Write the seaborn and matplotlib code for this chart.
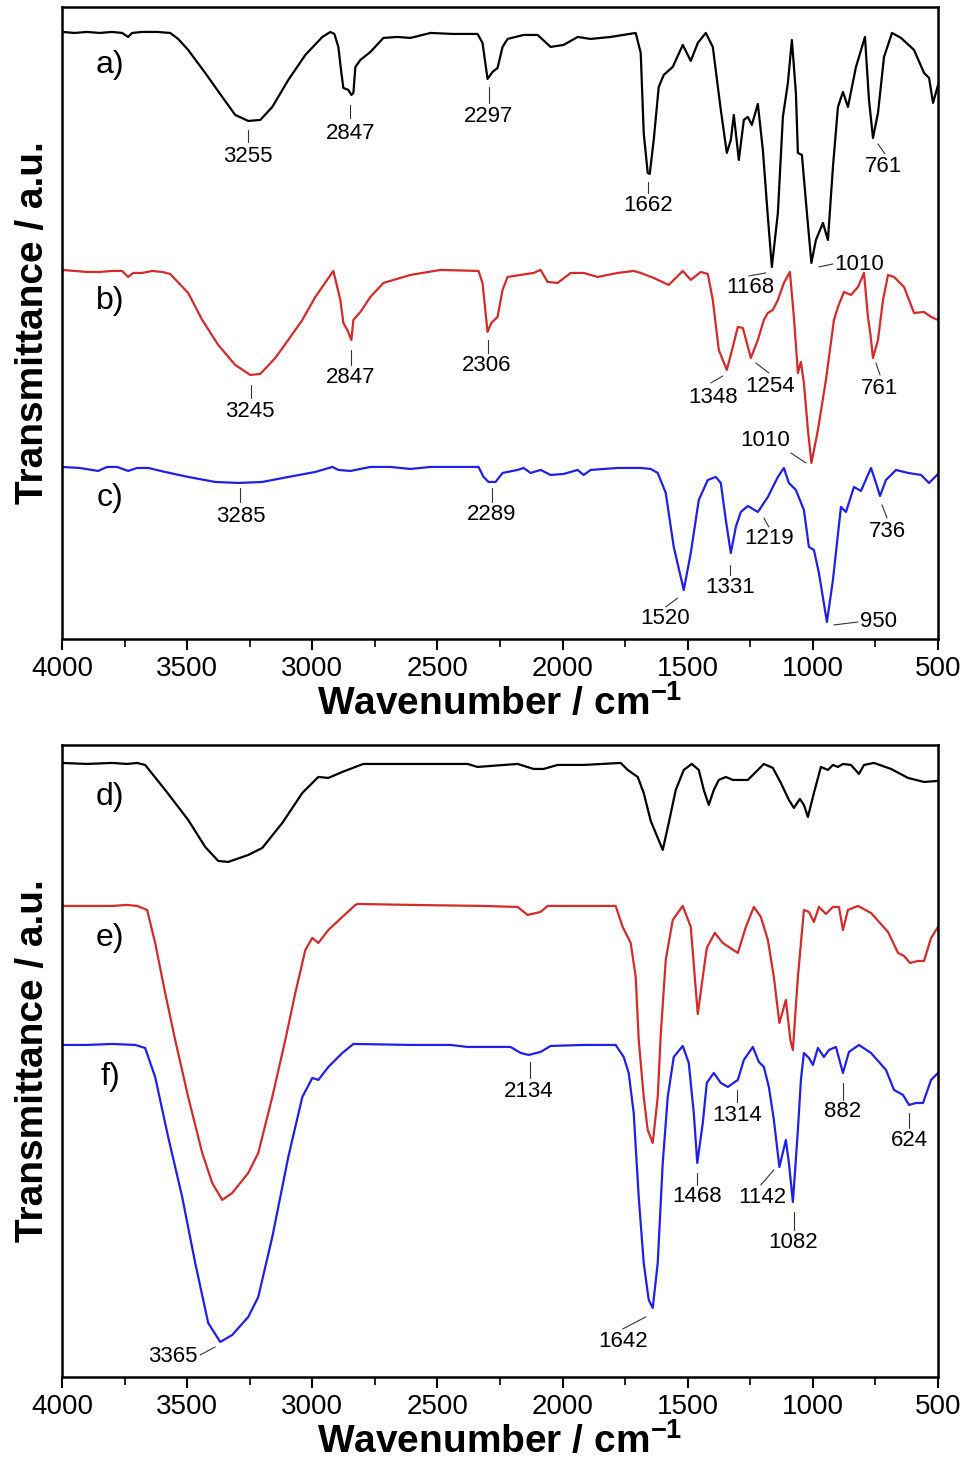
import numpy as np
import pandas as pd
import seaborn as sns
import matplotlib.pyplot as plt

# FTIR spectra, values (wavenumber in cm-1, transmittance in a.u.)
a_wn = [4000, 3950, 3900, 3850, 3800, 3760, 3736, 3720, 3680, 3620, 3568, 3536, 3496, 3428, 3360, 3308, 3256, 3208,
        3160, 3096, 3028, 2960, 2928, 2912, 2896, 2884, 2876, 2856, 2844, 2836, 2828, 2808, 2768, 2716, 2660, 2608,
        2528, 2440, 2340, 2320, 2300, 2280, 2260, 2240, 2220, 2156, 2100, 2048, 1996, 1940, 1888, 1808, 1708,
        1688, 1676, 1660, 1652, 1636, 1616, 1596, 1560, 1520, 1488, 1460, 1428, 1400, 1368, 1344, 1328, 1316,
        1296, 1276, 1260, 1244, 1220, 1200, 1180, 1164, 1140, 1120, 1100, 1084, 1068, 1060, 1044, 1024, 1006,
        988, 960, 940, 920, 900, 880, 860, 828, 792, 776, 760, 740, 716, 684, 648, 596, 556, 536, 520, 500]
a_t = [607, 606, 607, 606, 607, 606, 602, 606, 607, 607, 606, 600, 589, 566, 542, 524, 518, 519,
       532, 559, 584, 602, 607, 605, 592, 566, 551, 549, 544, 546, 572, 579, 587, 601, 602, 601,
       606, 605, 605, 596, 560, 567, 571, 592, 600, 604, 604, 592, 594, 602, 600, 602, 606,
       586, 506, 466, 465, 499, 552, 564, 572, 594, 578, 596, 606, 592, 529, 486, 499, 524,
       479, 519, 522, 514, 535, 489, 422, 372, 426, 522, 556, 599, 546, 486, 484, 426, 376,
       399, 416, 399, 472, 532, 547, 532, 572, 602, 539, 501, 526, 582, 606, 601, 589, 566, 561, 536, 554]

b_wn = [4000, 3950, 3900, 3850, 3800, 3760, 3736, 3716, 3680, 3640, 3600, 3568, 3496, 3440, 3376, 3308, 3248,
        3208, 3148, 3096, 3040, 2988, 2916, 2888, 2876, 2860, 2844, 2836, 2808, 2768, 2716, 2608, 2488, 2336,
        2320, 2300, 2285, 2260, 2240, 2220, 2116, 2088, 2060, 2020, 1968, 1916, 1860, 1780, 1716, 1688, 1636,
        1576, 1520, 1488, 1448, 1420, 1400, 1376, 1344, 1320, 1300, 1280, 1248, 1220, 1196, 1180, 1160, 1140,
        1116, 1092, 1076, 1060, 1048, 1036, 1020, 1006, 980, 948, 916, 900, 876, 848, 820, 796, 780, 770, 760,
        740, 730, 720, 700, 676, 636, 596, 556, 528, 500]
b_t = [369, 368, 367, 367, 368, 368, 362, 366, 366, 368, 367, 365, 346, 319, 294, 274, 264,
       265, 281, 299, 319, 342, 368, 339, 316, 309, 299, 319, 327, 342, 356, 364, 369, 368,
       356, 307, 316, 322, 349, 362, 366, 369, 357, 356, 366, 366, 362, 366, 368, 366, 361,
       354, 368, 359, 367, 365, 339, 289, 269, 292, 312, 311, 281, 299, 319, 326, 329, 339,
       356, 367, 322, 266, 277, 256, 209, 176, 209, 259, 319, 332, 347, 344, 352, 366, 322, 304, 281,
       299, 319, 339, 364, 362, 352, 326, 327, 322, 319]

c_wn = [4000, 3930, 3856, 3820, 3780, 3736, 3700, 3656, 3588, 3496, 3388, 3296, 3200, 3096, 2988, 2920, 2896,
        2848, 2768, 2688, 2608, 2528, 2336, 2316, 2296, 2268, 2240, 2180, 2156, 2128, 2088, 2048, 1996, 1940,
        1916, 1888, 1780, 1688, 1648, 1620, 1588, 1556, 1516, 1488, 1456, 1420, 1388, 1368, 1348, 1328, 1308,
        1288, 1260, 1220, 1180, 1140, 1116, 1096, 1068, 1036, 1016, 996, 976, 944, 920, 888, 868, 836, 808,
        768, 748, 732, 708, 668, 620, 568, 536, 500]
c_t = [172, 171, 168, 172, 172, 168, 171, 171, 167, 162, 157, 156, 157, 162, 167, 172, 169,
       168, 172, 172, 170, 172, 172, 162, 157, 157, 166, 169, 171, 166, 169, 164, 165, 169,
       164, 169, 171, 171, 170, 166, 146, 92, 49, 86, 139, 159, 162, 156, 119, 86, 112,
       127, 133, 127, 142, 162, 171, 156, 149, 129, 92, 89, 66, 17, 59, 132, 127, 152, 148,
       171, 156, 143, 159, 169, 166, 164, 156, 165]

d_wn = [4000, 3900, 3800, 3740, 3700, 3668, 3588, 3496, 3428, 3376, 3336, 3256, 3200, 3120, 3040, 2976, 2936,
        2880, 2828, 2796, 2580, 2380, 2340, 2180, 2116, 2076, 2020, 1916, 1768, 1740, 1700, 1676, 1648, 1600,
        1576, 1548, 1516, 1484, 1456, 1436, 1416, 1396, 1376, 1348, 1320, 1260, 1228, 1196, 1160, 1128, 1096,
        1076, 1052, 1036, 1020, 996, 968, 940, 920, 900, 880, 848, 816, 796, 756, 688, 620, 556, 500]
d_t = [614, 613, 614, 613, 614, 612, 587, 557, 530, 516, 515, 522, 529, 554, 584, 600, 599,
       605, 610, 613, 613, 613, 610, 613, 608, 608, 612, 612, 614, 607, 600, 584, 556, 527,
       554, 587, 607, 613, 607, 587, 572, 587, 597, 600, 597, 597, 605, 613, 609, 594, 577,
       569, 578, 572, 560, 584, 610, 607, 612, 610, 613, 612, 603, 612, 614, 608, 599, 595, 596]

e_wn = [4000, 3900, 3800, 3740, 3700, 3660, 3628, 3588, 3548, 3496, 3440, 3400, 3360, 3320, 3256, 3216, 3160,
        3108, 3068, 3028, 3000, 2976, 2936, 2880, 2828, 2820, 2600, 2316, 2180, 2140, 2088, 2060, 1916, 1788,
        1760, 1728, 1708, 1696, 1676, 1660, 1640, 1620, 1608, 1588, 1560, 1520, 1488, 1472, 1460, 1440, 1424,
        1392, 1360, 1300, 1268, 1236, 1208, 1180, 1156, 1134, 1108, 1090, 1080, 1060, 1036, 1016, 996, 976,
        948, 920, 896, 880, 860, 820, 768, 700, 660, 636, 612, 580, 556, 528, 500]
e_t = [471, 471, 471, 472, 471, 467, 434, 384, 337, 280, 224, 194, 177, 184, 204, 224, 280,
       337, 384, 427, 439, 434, 447, 460, 472, 473, 472, 471, 470, 462, 465, 471, 471, 471,
       450, 434, 400, 337, 280, 247, 234, 280, 342, 417, 457, 471, 450, 400, 363, 400, 429,
       444, 434, 424, 450, 470, 460, 437, 400, 354, 377, 337, 327, 400, 467, 465, 455, 470,
       463, 470, 470, 447, 467, 471, 464, 445, 424, 421, 414, 416, 416, 439, 450]

f_wn = [4000, 3900, 3800, 3708, 3668, 3628, 3576, 3520, 3468, 3416, 3368, 3320, 3256, 3216, 3160, 3096, 3040,
        3000, 2976, 2936, 2880, 2836, 2600, 2448, 2380, 2208, 2168, 2136, 2088, 2048, 1916, 1788, 1756, 1736,
        1716, 1696, 1676, 1656, 1640, 1620, 1600, 1580, 1556, 1520, 1496, 1476, 1462, 1440, 1424, 1396, 1368,
        1340, 1300, 1276, 1240, 1216, 1196, 1176, 1156, 1134, 1108, 1096, 1080, 1060, 1048, 1036, 1016, 1000,
        980, 956, 936, 908, 880, 856, 816, 768, 708, 676, 640, 616, 588, 560, 528, 500]
f_t = [332, 332, 333, 332, 329, 300, 240, 180, 114, 54, 35, 42, 60, 80, 140, 220, 280,
       299, 297, 310, 324, 333, 332, 332, 330, 330, 324, 322, 325, 331, 332, 332, 320, 304,
       264, 180, 114, 77, 69, 114, 214, 280, 320, 331, 314, 264, 214, 254, 294, 304, 294,
       290, 297, 317, 330, 315, 310, 290, 257, 210, 237, 214, 175, 247, 297, 324, 319, 312,
       329, 320, 327, 330, 304, 325, 332, 324, 307, 287, 282, 272, 274, 274, 297, 304]

# peak labels: text, text x, text y, leader x1, y1, x2, y2
top_peaks = [
    ("3255", 3256, 482, 3256, 509, 3256, 497), ("2847", 2848, 505, 2848, 534, 2848, 521),
    ("2297", 2296, 522, 2296, 552, 2296, 536), ("1662", 1660, 433, 1660, 457, 1660, 446),
    ("1168", 1252, 351, 1256, 363, 1188, 366), ("1010", 816, 374, 976, 372, 920, 375),
    ("761", 716, 472, 740, 495, 712, 485),
    ("3245", 3248, 227, 3244, 254, 3244, 241), ("2847", 2848, 261, 2844, 289, 2844, 274),
    ("2306", 2304, 273, 2300, 299, 2300, 286), ("1348", 1400, 241, 1360, 263, 1408, 256),
    ("1254", 1172, 252, 1228, 276, 1176, 266), ("761", 732, 250, 748, 276, 732, 264),
    ("1010", 1192, 198, 1088, 186, 1028, 176),
    ("3285", 3284, 122, 3288, 151, 3288, 137), ("2289", 2284, 124, 2284, 151, 2284, 137),
    ("1520", 1592, 20, 1588, 32, 1540, 41), ("1331", 1332, 51, 1332, 74, 1332, 64),
    ("1219", 1176, 100, 1196, 121, 1176, 112), ("736", 704, 107, 724, 134, 704, 121),
    ("950", 736, 17, 916, 14, 820, 17),
]
bottom_peaks = [
    ("3365", 3556, 20, 3448, 22, 3388, 30), ("2134", 2136, 285, 2132, 315, 2132, 299),
    ("1642", 1760, 35, 1760, 48, 1668, 60), ("1468", 1464, 180, 1464, 204, 1464, 192),
    ("1314", 1304, 261, 1304, 287, 1304, 275), ("1142", 1204, 179, 1208, 192, 1156, 207),
    ("1082", 1080, 134, 1076, 165, 1076, 147), ("882", 880, 265, 880, 294, 880, 277),
    ("624", 616, 236, 616, 264, 616, 249),
]

series_top = [("a)", a_wn, a_t, "black", 574), ("b)", b_wn, b_t, "#d42a2a", 338), ("c)", c_wn, c_t, "#1f1fe6", 141)]
series_bottom = [("d)", d_wn, d_t, "black", 580), ("e)", e_wn, e_t, "#d42a2a", 439), ("f)", f_wn, f_t, "#1f1fe6", 300)]

sns.set_style("ticks")
plt.rcParams["font.family"] = ["Liberation Sans", "DejaVu Sans"]
plt.rcParams["mathtext.fontset"] = "custom"
plt.rcParams["mathtext.rm"] = "Liberation Sans"
plt.rcParams["mathtext.bf"] = "Liberation Sans:bold"
plt.rcParams["text.color"] = "black"
plt.rcParams["axes.labelcolor"] = "black"
plt.rcParams["xtick.color"] = "black"
plt.rcParams["axes.edgecolor"] = "black"

fig = plt.figure(figsize=(9.74, 14.76), dpi=100)
ax1 = fig.add_axes([0.0637, 0.5671, 0.8994, 0.4282])
ax2 = fig.add_axes([0.0637, 0.0671, 0.8994, 0.4282])


def draw_panel(ax, series, peaks):
    for lab, wn, t, col, ylab in series:
        df = pd.DataFrame({"wn": wn, "t": t})
        sns.lineplot(data=df, x="wn", y="t", ax=ax, color=col, lw=1.6, sort=False, estimator=None,
                     solid_joinstyle="round")
        ax.text(3808, ylab, lab, fontsize=23, ha="center", va="center")
    for txt, tx, ty, x1, y1, x2, y2 in peaks:
        ax.plot([x1, x2], [y1, y2], color="#333333", lw=0.8)
        ax.text(tx, ty, txt, fontsize=16, ha="center", va="center")
    ax.set_xlim(4000, 500)
    ax.set_ylim(0, 632)
    ax.set_yticks([])
    ax.set_xticks(range(4000, 499, -500))
    ax.set_xticks(range(3750, 500, -500), minor=True)
    ax.tick_params(axis="x", which="major", labelsize=20, length=8, width=1.5, direction="out", pad=4)
    ax.tick_params(axis="x", which="minor", length=6, width=1.2, direction="out")
    for s in ax.spines.values():
        s.set_linewidth(1.8)
        s.set_visible(True)
    ax.set_xlabel(r"Wavenumber / cm$^{\mathbf{-1}}$", fontsize=28, fontweight="bold", labelpad=2)
    ax.set_ylabel("Transmittance / a.u.", fontsize=28, fontweight="bold", labelpad=8)


draw_panel(ax1, series_top, top_peaks)
draw_panel(ax2, series_bottom, bottom_peaks)

fig.savefig("out.png", dpi=100)
